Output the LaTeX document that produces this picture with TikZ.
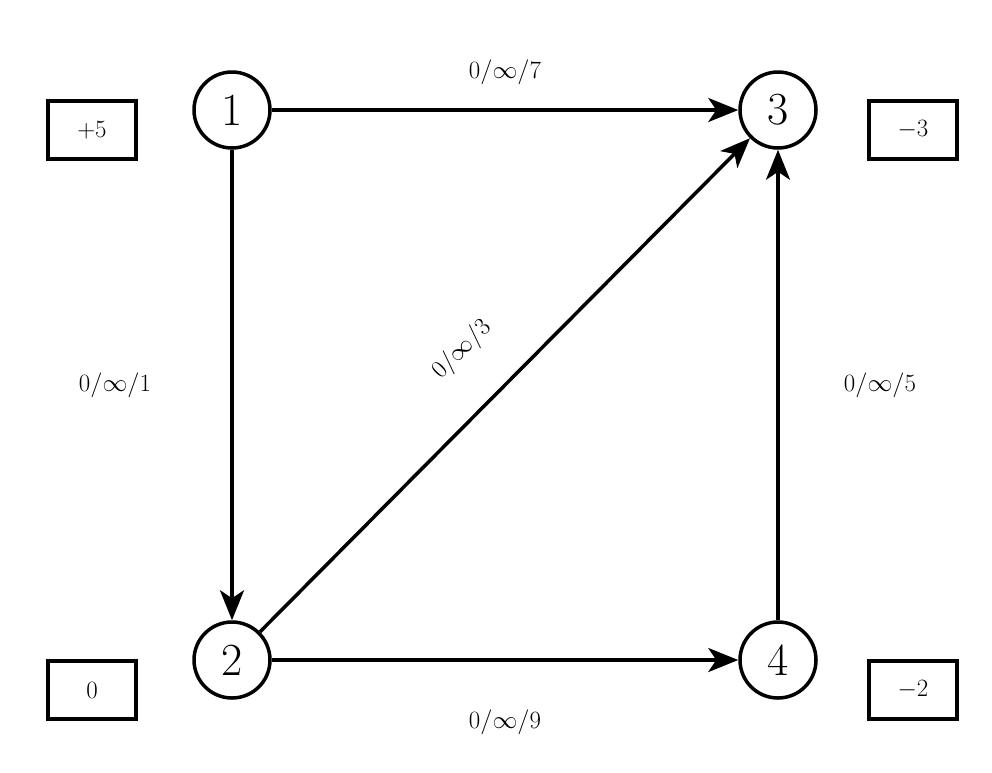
\documentclass[tikz,border=0pt]{standalone}
\usetikzlibrary{arrows.meta}
\begin{document}
\begin{tikzpicture}[x=1pt,y=-1pt,
  font=\fontsize{46}{54}\selectfont,
  vert/.style={circle,draw,line width=3.5pt,minimum size=76pt,inner sep=0pt},
  supply/.style={draw,line width=3.5pt,minimum width=88pt,minimum height=58pt,inner sep=2pt},
  arc/.style={line width=3.5pt,-{Stealth[length=30pt,width=24pt,inset=8pt]}}]
\useasboundingbox (0,0) rectangle (992,772);
\node[vert] (n1) at (232,110) {1};
\node[vert] (n3) at (778,110) {3};
\node[vert] (n2) at (232,660) {2};
\node[vert] (n4) at (778,660) {4};
\node[supply] (b1) at (92,130) {$+5$};
\node[supply] (b3) at (913,130) {$-3$};
\node[supply] (b2) at (92,690) {$0$};
\node[supply] (b4) at (913,690) {$-2$};
\draw[arc] (n1) -- (n3);
\draw[arc] (n1) -- (n2);
\draw[arc] (n2) -- (n4);
\draw[arc] (n4) -- (n3);
\draw[arc] (n2) -- (n3);
\node (l13) at (505,72) {$0/\infty/7$};
\node (l12) at (115,385) {$0/\infty/1$};
\node[rotate=45] (l23) at (462,350) {$0/\infty/3$};
\node (l43) at (880,385) {$0/\infty/5$};
\node (l24) at (505,722) {$0/\infty/9$};
\end{tikzpicture}
\end{document}
